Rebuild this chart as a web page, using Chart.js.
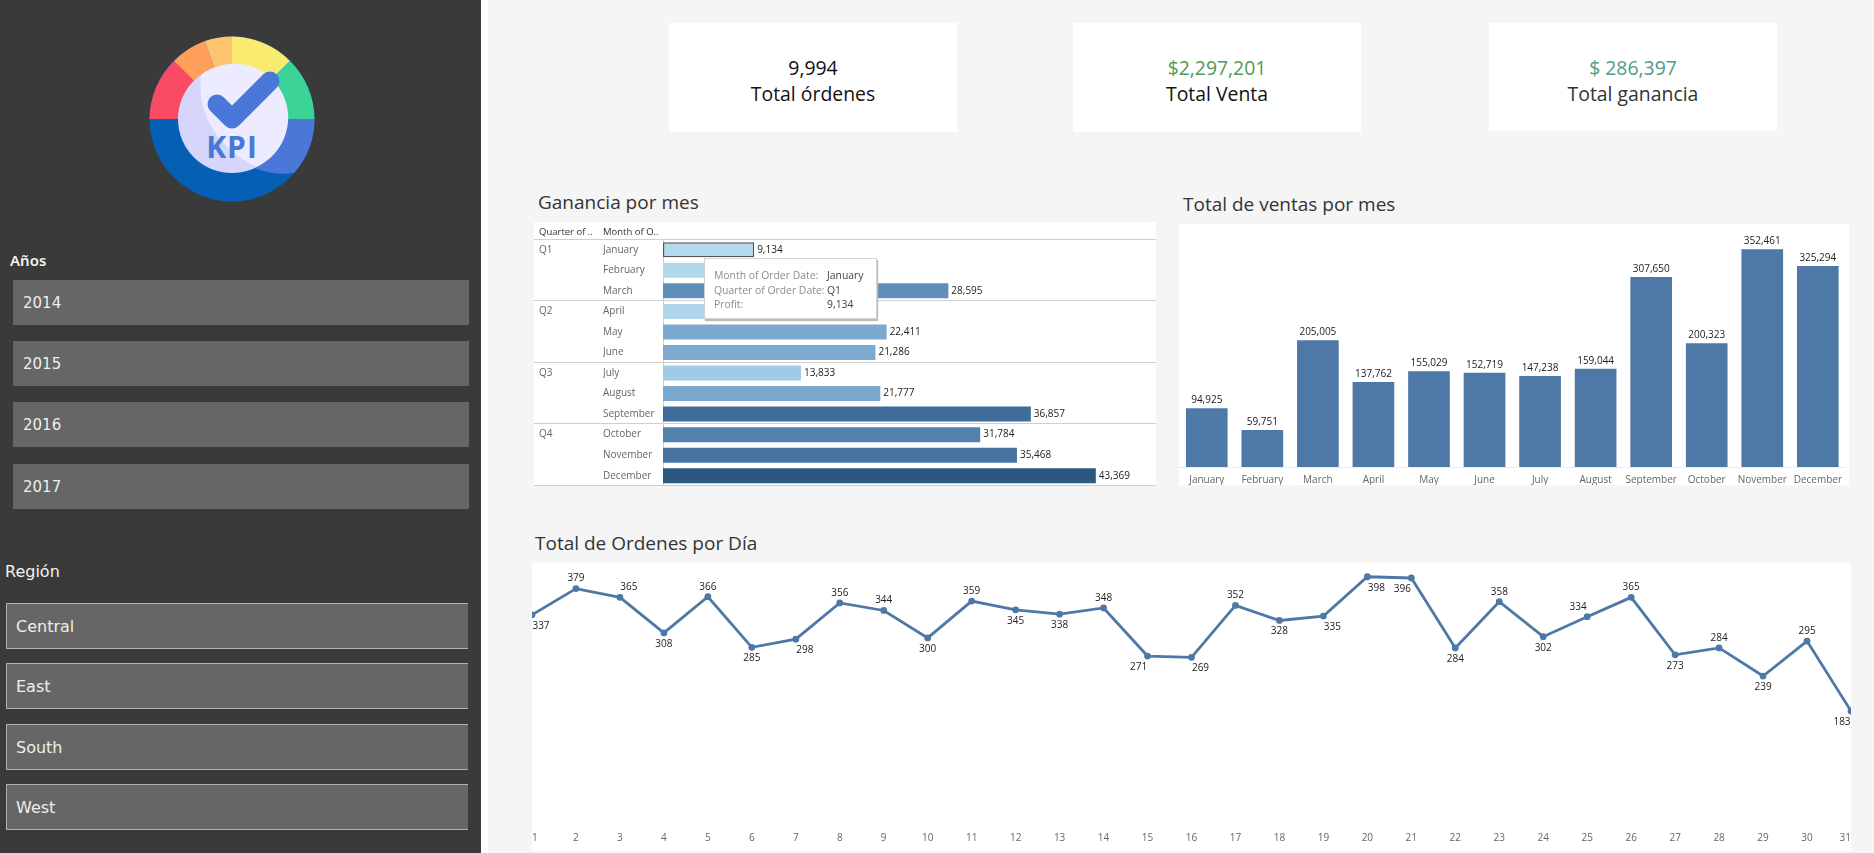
<!DOCTYPE html>
<html>
<head>
<meta charset="utf-8">
<title>KPI dashboard</title>
<script src="https://cdn.jsdelivr.net/npm/chart.js@4"></script>
<style>
html, body { margin: 0; padding: 0; width: 1874px; height: 853px; overflow: hidden; background: #f5f5f5; font-family: "Open Sans", sans-serif; }
#side { position: absolute; left: 0; top: 0; width: 481px; height: 853px; background: #3a3a3a; }
#strip { position: absolute; left: 481px; top: 0; width: 7px; height: 853px; background: #fff; }
#logo { position: absolute; left: 132px; top: 19px; }
.side-title { position: absolute; color: #f2f2f2; font-family: "DejaVu Sans", sans-serif; white-space: nowrap; }
.btn { position: absolute; box-sizing: border-box; background: #666; color: #eee; font: 15px "DejaVu Sans", sans-serif; display: flex; align-items: center; }
.btn.year { left: 13px; width: 456px; height: 45px; padding-left: 10px; }
.btn.region { left: 6px; width: 462px; height: 46px; padding-left: 9px; border: 1px solid #b0b0b0; border-right: 0; font-size: 16px; font-weight: 500; }
.card { position: absolute; top: 23px; width: 288px; height: 109px; background: #fff; text-align: center; }
.card .val { position: absolute; left: 0; right: 0; top: 33px; font-size: 19.4px; line-height: 24px; }
.card .lab { position: absolute; left: 0; right: 0; top: 59px; font-size: 19.4px; line-height: 24px; color: #111; }
.title { position: absolute; font-size: 19px; line-height: 24px; color: #333; white-space: nowrap; }
.panel { position: absolute; background: #fff; }
canvas { position: absolute; left: 0; top: 0; }
#tip { position: absolute; left: 704px; top: 258px; width: 173px; height: 61px; box-sizing: border-box; background: #fff; border: 1px solid #d4d4d4; box-shadow: 1px 2px 1px #bbb; font-size: 10.4px; line-height: 14px; color: #8c8c8c; }
#tip div { position: absolute; left: 9px; white-space: nowrap; }
#tip b { position: absolute; left: 113px; font-weight: 400; color: #444; }
</style>
</head>
<body>

<div id="side"></div>
<div id="strip"></div>

<svg id="logo" width="200" height="200" viewBox="132 19 200 200">
    <circle cx="232" cy="119" r="82.5" fill="#0560b5"/>
    <path d="M232 119 L149.5 119 A82.5 82.5 0 0 1 174 61 Z" fill="#fb4a64"/>
    <path d="M232 119 L174 61 A82.5 82.5 0 0 1 205 41 Z" fill="#ff9f59"/>
    <path d="M232 119 L205 41 A82.5 82.5 0 0 1 232 36.5 Z" fill="#ffc36f"/>
    <path d="M232 36.5 A82.5 82.5 0 0 1 290 61 L232 119 Z" fill="#f9ea70"/>
    <path d="M290 61 A82.5 82.5 0 0 1 314.5 119 L232 119 Z" fill="#3bd397"/>
    <path d="M232 119 L314.5 119 A82.5 82.5 0 0 1 294 173 Q270 176 250 166 Z" fill="#4a78d8"/>
    <circle cx="232" cy="119" r="54" fill="#d6d6fc"/>
    <path d="M201 75 A54 54 0 1 1 256 167 C222 150 196 118 201 75 Z" fill="#ecebff"/>
    <path d="M217 104 L232 119 L270 81" fill="none" stroke="#4a78d8" stroke-width="19" stroke-linecap="round" stroke-linejoin="round"/>
    <text x="232" y="158" text-anchor="middle" font-family="Open Sans" font-weight="700" font-size="30" letter-spacing="1" fill="#4a78d8">KPI</text>
</svg>

<div class="side-title" style="left:10px;top:250px;font:600 15px 'Noto Sans',sans-serif">Años</div>
<div class="btn year" style="top:280px">2014</div>
<div class="btn year" style="top:341px">2015</div>
<div class="btn year" style="top:402px">2016</div>
<div class="btn year" style="top:464px">2017</div>

<div class="side-title" style="left:5px;top:562px;font-size:16px">Región</div>
<div class="btn region" style="top:603px">Central</div>
<div class="btn region" style="top:663px">East</div>
<div class="btn region" style="top:724px">South</div>
<div class="btn region" style="top:784px">West</div>

<div class="card" style="left:669px"><div class="val" style="color:#111">9,994</div><div class="lab">Total órdenes</div></div>
<div class="card" style="left:1073px"><div class="val" style="color:#4f9a55">$2,297,201</div><div class="lab">Total Venta</div></div>
<div class="card" style="left:1489px;height:108px"><div class="val" style="color:#4f9a8c">$ 286,397</div><div class="lab" style="color:#333">Total ganancia</div></div>

<div class="title" style="left:538px;top:190px">Ganancia por mes</div>
<div class="title" style="left:1183px;top:192px">Total de ventas por mes</div>
<div class="title" style="left:535px;top:531px">Total de Ordenes por Día</div>

<div class="panel" style="left:534px;top:222px;width:622px;height:264px"><canvas id="profitChart" width="622" height="264"></canvas></div>
<div class="panel" style="left:1179px;top:224px;width:670px;height:261px"><canvas id="salesChart" width="670" height="261"></canvas></div>
<div class="panel" style="left:532px;top:563px;width:1319px;height:288px"><canvas id="dayChart" width="1319" height="288"></canvas></div>

<div id="tip">
    <div style="top:9px">Month of Order Date:<b>January</b></div>
    <div style="top:24px">Quarter of Order Date:<b>Q1</b></div>
    <div style="top:38px">Profit:<b>9,134</b></div>
</div>

<script>
// Data
const months = ['January', 'February', 'March', 'April', 'May', 'June', 'July', 'August', 'September', 'October', 'November', 'December'];
const quarters = ['Q1', 'Q2', 'Q3', 'Q4'];
// February and April sit behind the tooltip, estimated
const profit = [9134, 10295, 28595, 11587, 22411, 21286, 13833, 21777, 36857, 31784, 35468, 43369];
const sales = [94925, 59751, 205005, 137762, 155029, 152719, 147238, 159044, 307650, 200323, 352461, 325294];
const days = ['1', '2', '3', '4', '5', '6', '7', '8', '9', '10', '11', '12', '13', '14', '15', '16', '17', '18', '19', '20', '21', '22', '23', '24', '25', '26', '27', '28', '29', '30', '31'];
const orders = [337, 379, 365, 308, 366, 285, 298, 356, 344, 300, 359, 345, 338, 348, 271, 269, 352, 328, 335, 398, 396, 284, 358, 302, 334, 365, 273, 284, 239, 295, 183];

// Look of the marks
const profitShades = ['#b4daee', '#b2d8ec', '#5e8fbb', '#aed5ea', '#7aa8ce', '#7ba9cf', '#a0cae5', '#7aa8ce', '#3f6d9b', '#5281ae', '#46729f', '#2c5781'];
const mainBlue = '#4e78a5';

// Which day labels go under the point or beside it
const labelsBelow = [1, 4, 6, 7, 10, 12, 13, 15, 16, 18, 19, 20, 21, 22, 24, 27, 29, 31];
const labelsRight = [1, 3, 7, 16, 19, 20];
const labelsLeft = [15, 21, 25, 31];

Chart.defaults.font.family = '"Open Sans", sans-serif';
Chart.defaults.font.size = 10;
Chart.defaults.animation = false;
Chart.defaults.responsive = false;
Chart.defaults.plugins.legend.display = false;
Chart.defaults.plugins.tooltip.enabled = false;

const fmt = function(v){
    return v.toLocaleString('en-US');
};

// Puts the value at the end of each bar
const barValues = {
    id: 'barValues',
    afterDatasetsDraw: function(chart){
        let ctx = chart.ctx;
        let horizontal = chart.options.indexAxis === 'y';
        ctx.save();
        ctx.font = '10px "Open Sans", sans-serif';
        ctx.fillStyle = '#222';
        chart.getDatasetMeta(0).data.forEach(function(bar, i){
            let text = fmt(chart.data.datasets[0].data[i]);
            if(horizontal){
                ctx.textAlign = 'left';
                ctx.textBaseline = 'middle';
                ctx.fillText(text, bar.x + 3, bar.y);
            } else {
                ctx.textAlign = 'center';
                ctx.textBaseline = 'middle';
                ctx.fillText(text, bar.x, bar.y - 8);
            }
        });
        ctx.restore();
    }
};

// Quarter column, header row and the lines between the quarters
const quarterColumn = {
    id: 'quarterColumn',
    afterDraw: function(chart){
        let ctx = chart.ctx;
        let y = chart.scales.y;
        ctx.save();
        ctx.strokeStyle = '#cfcfcf';
        ctx.lineWidth = 1;
        ctx.textBaseline = 'middle';
        ctx.textAlign = 'left';

        quarters.forEach(function(q, n){
            let first = n * 3;
            ctx.fillStyle = '#666';
            ctx.font = '10px "Open Sans", sans-serif';
            ctx.fillText(q, 5, y.getPixelForValue(first));
            let edge = Math.round(y.getPixelForValue(first) - (y.getPixelForValue(1) - y.getPixelForValue(0)) / 2) - 0.5;
            ctx.beginPath();
            ctx.moveTo(0, edge);
            ctx.lineTo(chart.width, edge);
            ctx.stroke();
        });

        let bottom = chart.chartArea.bottom - 0.5;
        ctx.beginPath();
        ctx.moveTo(0, bottom);
        ctx.lineTo(chart.width, bottom);
        ctx.stroke();

        ctx.fillStyle = '#333';
        ctx.font = '9.5px "Open Sans", sans-serif';
        ctx.fillText('Quarter of ..', 5, 10);
        ctx.fillText('Month of O..', y.left, 10);
        ctx.restore();
    }
};

// Numbers around the line points
const dayValues = {
    id: 'dayValues',
    afterDatasetsDraw: function(chart){
        let ctx = chart.ctx;
        ctx.save();
        ctx.font = '10px "Open Sans", sans-serif';
        ctx.fillStyle = '#222';
        ctx.textAlign = 'center';
        ctx.textBaseline = 'middle';
        chart.getDatasetMeta(0).data.forEach(function(pt, i){
            let day = i + 1;
            let dy = labelsBelow.includes(day) ? 11 : -10;
            let dx = 0;
            if(labelsRight.includes(day)) dx = 9;
            if(labelsLeft.includes(day)) dx = -9;
            ctx.fillText(orders[i], pt.x + dx, pt.y + dy);
        });
        ctx.restore();
    }
};

// Ganancia por mes
new Chart(document.getElementById('profitChart'), {
    type: 'bar',
    data: {
        labels: months,
        datasets: [{
            data: profit,
            backgroundColor: profitShades,
            borderColor: months.map((m, i) => i === 0 ? '#555' : 'transparent'),
            borderWidth: months.map((m, i) => i === 0 ? 1.5 : 0),
            borderSkipped: false,
            barPercentage: 0.73,
            categoryPercentage: 1
        }]
    },
    options: {
        indexAxis: 'y',
        layout: { padding: { left: 69, top: 17.5, bottom: 0 } },
        scales: {
            x: { display: false, min: 0, max: 49400 },
            y: {
                afterFit: function(s){ s.width = 60; s.paddingTop = 0; s.paddingBottom = 0; },
                grid: { display: false },
                border: { display: true, color: '#cfcfcf' },
                ticks: { crossAlign: 'far', color: '#666', autoSkip: false }
            }
        }
    },
    plugins: [barValues, quarterColumn]
});

// Total de ventas por mes
new Chart(document.getElementById('salesChart'), {
    type: 'bar',
    data: {
        labels: months,
        datasets: [{
            data: sales,
            backgroundColor: mainBlue,
            barPercentage: 0.75,
            categoryPercentage: 1
        }]
    },
    options: {
        scales: {
            y: { display: false, min: 0, max: 393400 },
            x: {
                afterFit: function(s){ s.height = 18; },
                grid: { display: false, drawTicks: false },
                border: { display: true, color: '#ececec' },
                ticks: { color: '#666', padding: 7, autoSkip: false, maxRotation: 0 }
            }
        }
    },
    plugins: [barValues]
});

// Total de Ordenes por Dia
new Chart(document.getElementById('dayChart'), {
    type: 'line',
    data: {
        labels: days,
        datasets: [{
            data: orders,
            borderColor: mainBlue,
            backgroundColor: mainBlue,
            borderWidth: 2.8,
            pointRadius: 2,
            tension: 0
        }]
    },
    options: {
        layout: { autoPadding: false },
        scales: {
            y: { display: false, min: 0, max: 420 },
            x: {
                afterFit: function(s){ s.height = 25.7; s.paddingLeft = 0; s.paddingRight = 0; },
                grid: { display: false, drawTicks: false },
                border: { display: false },
                ticks: { color: '#666', padding: 7, autoSkip: false, maxRotation: 0, align: 'inner' }
            }
        }
    },
    plugins: [dayValues]
});
</script>
</body>
</html>
